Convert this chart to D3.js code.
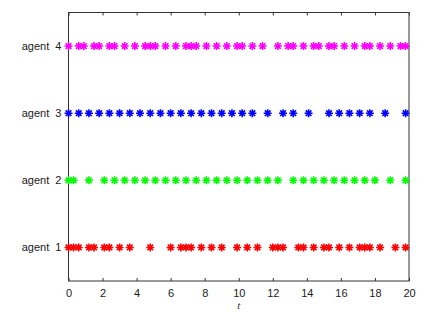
<!DOCTYPE html>
<html lang="en">
<head>
<meta charset="utf-8">
<title>Agent events</title>
<script src="https://cdn.jsdelivr.net/npm/d3@7/dist/d3.min.js"></script>
<style>
  html, body { margin: 0; padding: 0; background: #fff; }
  svg { display: block; font-family: "Liberation Sans", Arial, sans-serif; }
</style>
</head>
<body>
<svg id="chart"></svg>
<script>
const agents = ["agent  1", "agent  2", "agent  3", "agent  4"]
const colors = ["#ff0000", "#00ff00", "#0000ff", "#ff00ff"]
const xTicks = [0, 2, 4, 6, 8, 10, 12, 14, 16, 18, 20]

const agent1 = [0, 0.3, 0.6, 1.2, 1.5, 2.1, 2.4, 3.0, 3.6, 4.8, 6.0, 6.6, 6.9, 7.2, 7.8, 8.4, 9.0,
  9.9, 10.5, 11.1, 12.0, 12.3, 12.6, 13.5, 13.8, 14.4, 15.0, 15.3, 15.9, 16.5, 17.1, 17.4, 17.7,
  18.3, 19.2, 19.8]
const agent2 = [0, 0.3, 1.2, 2.1, 2.7, 3.3, 3.9, 4.5, 5.1, 5.7, 6.3, 6.9, 7.5, 8.1, 8.7, 9.3, 9.9,
  10.5, 11.1, 11.7, 12.3, 13.2, 13.8, 14.4, 15.0, 15.6, 16.2, 16.8, 17.4, 18.0, 18.9, 19.8]
const agent3 = [0, 0.6, 1.2, 1.8, 2.4, 3.0, 3.6, 4.2, 4.8, 5.4, 6.0, 6.6, 7.2, 7.8, 8.4, 9.0, 9.6,
  10.2, 10.8, 11.7, 12.6, 13.2, 14.1, 15.3, 15.9, 16.5, 17.1, 17.7, 18.6, 19.8]
const agent4 = [0, 0.6, 0.9, 1.5, 1.8, 2.4, 2.7, 3.3, 3.9, 4.5, 4.8, 5.1, 5.7, 6.3, 6.9, 7.2, 7.5,
  8.1, 8.7, 9.3, 9.9, 10.2, 10.8, 11.4, 12.3, 12.9, 13.2, 13.8, 14.4, 14.7, 15.3, 15.6, 16.2,
  16.8, 17.4, 17.7, 18.3, 18.9, 19.5, 19.8]

const series = [agent1, agent2, agent3, agent4]

const width = 446
const height = 317
const margin = {top: 12.5, right: 37, bottom: 36, left: 68.5}

const svg = d3.select("#chart")
    .attr("width", width)
    .attr("height", height)

const x = d3.scaleLinear()
    .domain([0, 20])
    .range([margin.left, width - margin.right])

const y = d3.scaleLinear()
    .domain([0.5, 4.5])
    .range([height - margin.bottom, margin.top])

// matlab style '*' marker: plus and cross combined
const star = {
  draw(ctx, size) {
    const r = Math.sqrt(size) / 2
    const d = r * Math.SQRT1_2
    ctx.moveTo(-r, 0); ctx.lineTo(r, 0)
    ctx.moveTo(0, -r); ctx.lineTo(0, r)
    ctx.moveTo(-d, -d); ctx.lineTo(d, d)
    ctx.moveTo(-d, d); ctx.lineTo(d, -d)
  }
}
const marker = d3.symbol().type(star).size(64)

// frame
const axisColor = "#333"
svg.append("rect")
    .attr("x", x(0))
    .attr("y", y(4.5))
    .attr("width", x(20) - x(0))
    .attr("height", y(0.5) - y(4.5))
    .attr("fill", "none")
    .attr("stroke", axisColor)
    .attr("stroke-width", 1)

const gBottom = svg.append("g")
    .attr("transform", `translate(0,${y(0.5)})`)
    .call(d3.axisBottom(x).tickValues(xTicks).tickSizeInner(-3).tickSizeOuter(0).tickPadding(8))
const gTop = svg.append("g")
    .attr("transform", `translate(0,${y(4.5)})`)
    .call(d3.axisTop(x).tickValues(xTicks).tickSizeInner(-3).tickSizeOuter(0).tickFormat(""))
const gLeft = svg.append("g")
    .attr("transform", `translate(${x(0)},0)`)
    .call(d3.axisLeft(y).tickValues([1, 2, 3, 4]).tickSizeInner(-3).tickSizeOuter(0)
        .tickPadding(7).tickFormat(d => agents[d - 1]))
const gRight = svg.append("g")
    .attr("transform", `translate(${x(20)},0)`)
    .call(d3.axisRight(y).tickValues([1, 2, 3, 4]).tickSizeInner(-3).tickSizeOuter(0).tickFormat(""))

;[gBottom, gTop, gLeft, gRight].forEach(g => {
  g.select(".domain").remove()
  g.selectAll("line").attr("stroke", axisColor)
  g.selectAll("text")
      .attr("fill", "#1a1a1a")
      .attr("font-size", 11)
      .style("font-family", "'Liberation Sans', Arial, sans-serif")
      .style("white-space", "pre")
})

svg.append("text")
    .attr("x", x(10))
    .attr("y", height - 8)
    .attr("text-anchor", "middle")
    .attr("font-size", 11)
    .attr("font-style", "italic")
    .attr("font-family", "'Liberation Serif', serif")
    .attr("fill", "#333")
    .text("t")

// event markers
series.forEach((values, i) => {
  svg.append("g")
      .attr("stroke", colors[i])
      .attr("stroke-width", 1.6)
      .attr("fill", "none")
      .selectAll("path")
      .data(values)
      .join("path")
      .attr("transform", d => `translate(${x(d)},${y(i + 1)})`)
      .attr("d", marker)
})
</script>
</body>
</html>
